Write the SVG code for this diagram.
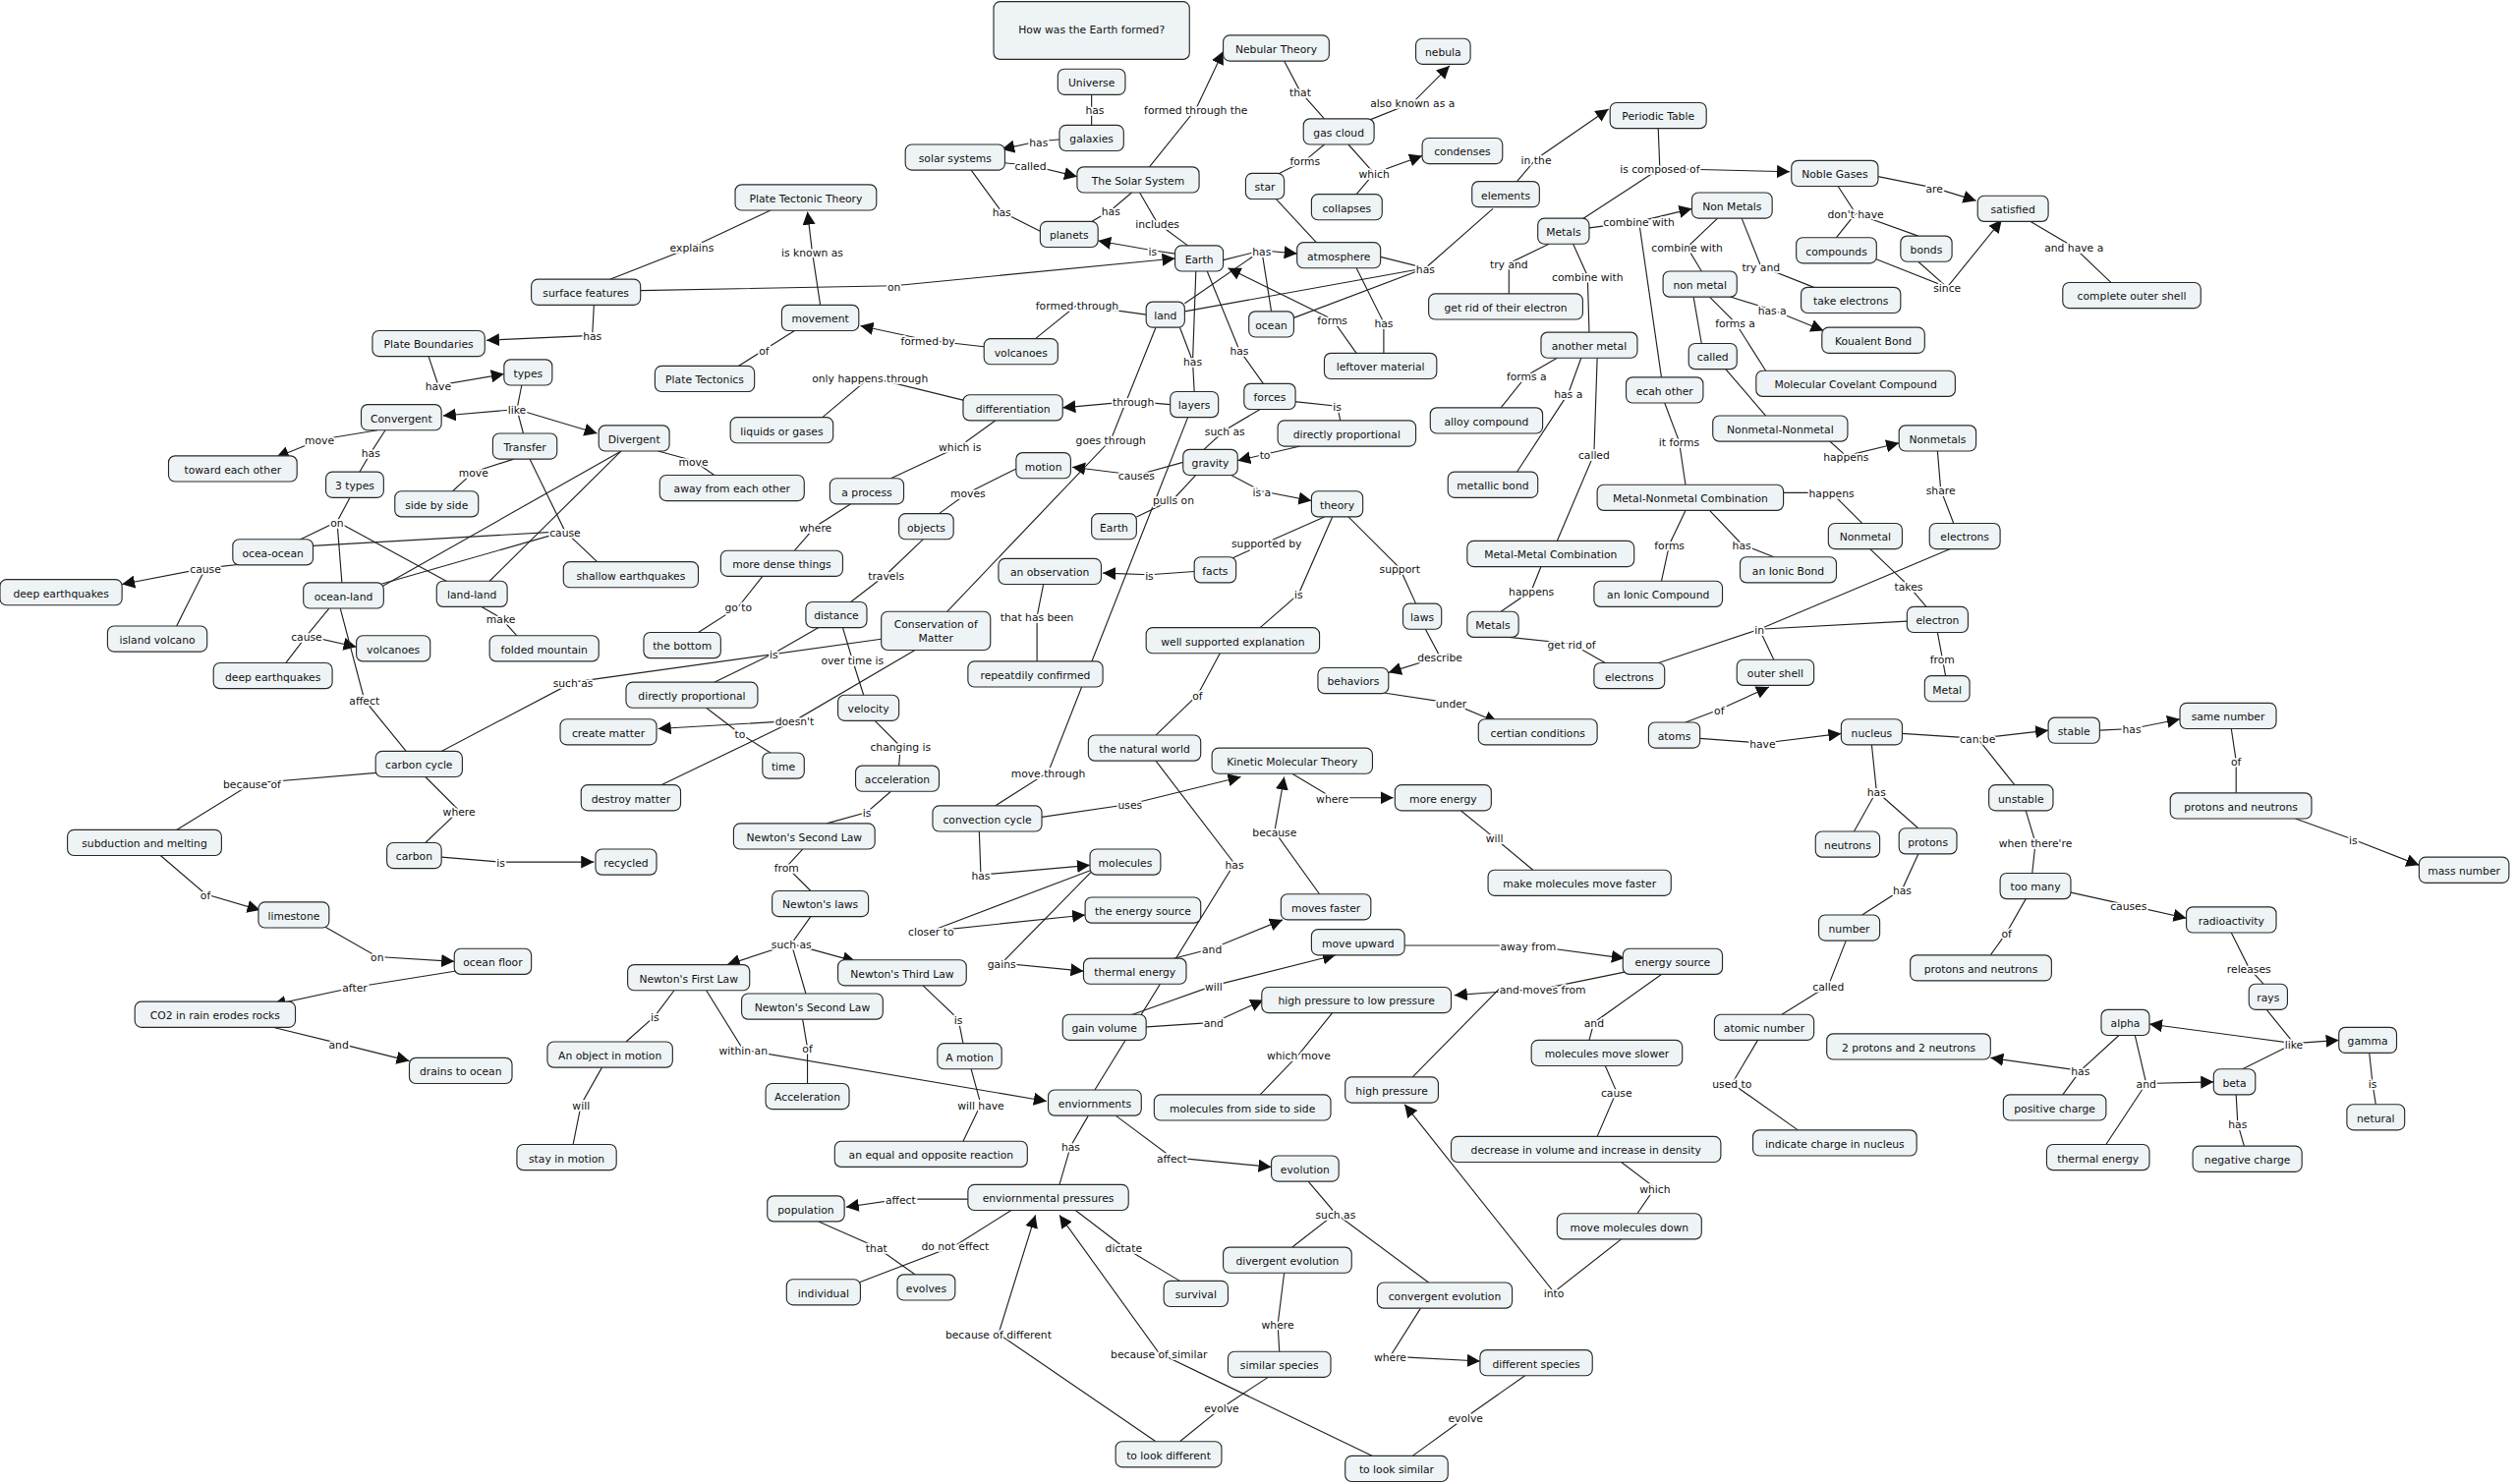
<svg xmlns="http://www.w3.org/2000/svg" width="2561" height="1510" viewBox="0 0 2561 1510">
<style>
.n rect{fill:#eef3f5;stroke:#2a2a2a;stroke-width:0.7;height:16px;rx:4px;ry:4px}
.n text,.l{font-family:"DejaVu Sans",Verdana,sans-serif;font-size:6.6px;fill:#111;text-anchor:middle}
.l{stroke:#fff;stroke-width:2.2px;paint-order:stroke;stroke-linejoin:round}
#edges path{fill:none;stroke:#222;stroke-width:0.7}
#edges path.a{marker-end:url(#ar)}
</style>
<defs><marker id="ar" viewBox="0 0 10 10" refX="10" refY="5" markerWidth="8" markerHeight="8" markerUnits="userSpaceOnUse" orient="auto"><path d="M0,0 L10,5 L0,10 z" fill="#111"/></marker></defs>
<rect width="2561" height="1510" fill="#fff"/>
<g transform="scale(1.6333)">
<g id="edges">
<path d="M680,59 L680,78"/>
<path class="a" d="M670,86 L647,88 L624,93"/>
<path class="a" d="M620,101 L642,103 L671,110"/>
<path d="M605,106 L624,132 L648,144"/>
<path d="M705,120 L692,131 L680,138"/>
<path d="M710,120 L721,139 L740,153"/>
<path class="a" d="M732,158 L718,156 L684,150"/>
<path class="a" d="M716,104 L745,68 L762,32"/>
<path d="M800,38 L810,57 L825,74"/>
<path class="a" d="M850,76 L880,64 L903,41"/>
<path class="a" d="M840,90 L856,108 L886,97"/>
<path d="M856,108 L845,121"/>
<path d="M825,90 L813,100 L795,109"/>
<path d="M795,124 L820,151"/>
<path class="a" d="M762,162 L786,156 L808,158"/>
<path d="M786,156 L792,194"/>
<path d="M786,156 L738,189"/>
<path d="M860,160 L888,167 L930,130"/>
<path d="M738,194 L888,167"/>
<path d="M806,198 L888,167"/>
<path d="M845,167 L862,201 L862,220"/>
<path class="a" d="M845,220 L830,199 L765,167"/>
<path d="M745,169 L743,225 L744,244"/>
<path d="M735,204 L743,225"/>
<path d="M752,169 L772,218 L787,239"/>
<path d="M714,196 L671,190 L645,211"/>
<path class="a" d="M613,216 L578,212 L536,203"/>
<path class="a" d="M511,190 L506,157 L503,132"/>
<path d="M495,206 L476,218 L460,228"/>
<path d="M380,174 L431,154 L480,131"/>
<path class="a" d="M399,181 L557,178 L732,161"/>
<path class="a" d="M370,190 L369,209 L303,212"/>
<path class="a" d="M267,222 L273,240 L314,233"/>
<path class="a" d="M325,240 L322,255 L276,259"/>
<path d="M322,255 L326,270"/>
<path class="a" d="M322,255 L372,270"/>
<path class="a" d="M235,268 L199,274 L172,285"/>
<path d="M240,268 L231,282 L224,294"/>
<path d="M410,281 L432,287 L445,296"/>
<path d="M320,286 L295,294 L282,306"/>
<path d="M218,310 L210,325 L185,337"/>
<path d="M210,325 L213,363"/>
<path d="M210,325 L280,363"/>
<path d="M330,286 L352,331 L372,350"/>
<path d="M195,340 L352,331"/>
<path d="M230,366 L352,331"/>
<path d="M387,281 L305,362"/>
<path d="M387,281 L235,367"/>
<path class="a" d="M155,351 L128,354 L76,364"/>
<path d="M128,354 L110,390"/>
<path class="a" d="M205,379 L191,396 L222,403"/>
<path d="M191,396 L178,413"/>
<path d="M300,378 L312,385 L322,396"/>
<path d="M212,379 L227,436 L253,468"/>
<path d="M240,481 L157,488 L110,517"/>
<path d="M265,484 L286,505 L265,525"/>
<path class="a" d="M275,534 L312,537 L370,537"/>
<path class="a" d="M100,533 L128,557 L162,567"/>
<path class="a" d="M200,576 L235,596 L283,599"/>
<path class="a" d="M290,604 L221,615 L170,626"/>
<path class="a" d="M170,640 L211,650 L255,661"/>
<path d="M550,398 L357,425 L275,468"/>
<path class="a" d="M570,405 L495,449 L410,454"/>
<path d="M495,449 L410,490"/>
<path d="M603,250 L542,235 L510,262"/>
<path class="a" d="M729,252 L706,250 L662,254"/>
<path d="M620,262 L598,278 L555,298"/>
<path d="M530,314 L508,328 L495,343"/>
<path d="M475,359 L460,378 L435,394"/>
<path d="M585,320 L603,307 L633,292"/>
<path class="a" d="M737,288 L708,296 L668,291"/>
<path d="M575,336 L552,358 L530,375"/>
<path d="M525,391 L531,411 L538,433"/>
<path d="M510,391 L482,407 L445,425"/>
<path d="M440,441 L461,457 L480,469"/>
<path d="M545,449 L561,465 L560,477"/>
<path d="M555,493 L540,506 L515,513"/>
<path d="M500,529 L490,540 L505,555"/>
<path class="a" d="M505,571 L493,588 L453,601"/>
<path class="a" d="M493,588 L533,599"/>
<path d="M493,588 L502,619"/>
<path d="M420,617 L408,633 L390,649"/>
<path d="M375,665 L362,688 L357,713"/>
<path class="a" d="M440,617 L463,654 L652,686"/>
<path d="M500,635 L503,653 L503,675"/>
<path d="M575,614 L597,635 L600,650"/>
<path d="M605,666 L611,688 L600,711"/>
<path d="M785,255 L763,268 L750,280"/>
<path d="M805,250 L833,253 L835,262"/>
<path class="a" d="M810,278 L788,283 L771,287"/>
<path d="M745,296 L731,311 L708,322"/>
<path class="a" d="M765,295 L786,306 L817,312"/>
<path d="M765,349 L789,338 L825,322"/>
<path class="a" d="M744,356 L716,358 L687,357"/>
<path d="M650,364 L646,384 L646,412"/>
<path d="M840,322 L872,354 L882,376"/>
<path d="M830,322 L809,370 L785,391"/>
<path class="a" d="M888,392 L897,409 L865,419"/>
<path class="a" d="M858,431 L904,438 L933,450"/>
<path d="M760,407 L746,433 L720,458"/>
<path d="M720,204 L692,274 L590,381"/>
<path d="M740,260 L653,481 L620,502"/>
<path class="a" d="M649,509 L704,501 L773,484"/>
<path class="a" d="M610,518 L611,545 L679,539"/>
<path class="a" d="M680,542 L580,580 L676,570"/>
<path class="a" d="M680,543 L624,600 L675,605"/>
<path class="a" d="M805,482 L830,497 L868,497"/>
<path d="M910,505 L931,522 L955,542"/>
<path class="a" d="M822,557 L794,518 L800,484"/>
<path class="a" d="M720,600 L755,591 L799,573"/>
<path d="M720,474 L769,538 L682,679"/>
<path class="a" d="M700,634 L756,614 L832,595"/>
<path class="a" d="M710,640 L756,637 L787,623"/>
<path class="a" d="M875,589 L952,589 L1012,597"/>
<path class="a" d="M1015,605 L961,616 L906,620"/>
<path d="M935,615 L880,671"/>
<path d="M830,631 L809,657 L785,682"/>
<path d="M1035,607 L993,637 L990,648"/>
<path d="M1000,664 L1007,680 L995,708"/>
<path d="M1010,724 L1031,740 L1020,756"/>
<path class="a" d="M1010,772 L968,805 L875,688"/>
<path d="M678,695 L667,714 L660,738"/>
<path class="a" d="M695,695 L730,721 L792,727"/>
<path class="a" d="M603,747 L561,747 L527,752"/>
<path d="M630,754 L595,776 L535,799"/>
<path d="M510,761 L546,777 L570,794"/>
<path d="M670,754 L700,777 L735,798"/>
<path d="M815,736 L832,756 L805,777"/>
<path d="M832,756 L890,799"/>
<path d="M800,793 L796,825 L797,842"/>
<path class="a" d="M885,815 L866,845 L922,848"/>
<path d="M790,858 L761,877 L735,898"/>
<path d="M950,857 L913,883 L880,907"/>
<path class="a" d="M720,898 L622,831 L645,757"/>
<path class="a" d="M855,907 L722,843 L660,757"/>
<path class="a" d="M945,113 L957,99 L1002,68"/>
<path class="a" d="M1033,80 L1034,105 L1115,107"/>
<path d="M1034,105 L985,137"/>
<path class="a" d="M990,142 L1021,138 L1054,130"/>
<path d="M1021,138 L1035,235"/>
<path class="a" d="M1170,110 L1205,117 L1231,125"/>
<path d="M1265,138 L1292,154 L1315,176"/>
<path d="M1145,116 L1156,133 L1144,148"/>
<path d="M1156,133 L1195,147"/>
<path class="a" d="M1165,160 L1213,179 L1247,137"/>
<path d="M1195,163 L1213,179"/>
<path d="M1070,136 L1051,154 L1060,169"/>
<path d="M1085,136 L1097,166 L1130,179"/>
<path class="a" d="M1075,184 L1104,193 L1136,206"/>
<path d="M1065,185 L1081,201 L1100,231"/>
<path d="M1055,185 L1060,214"/>
<path d="M1075,230 L1100,259"/>
<path d="M965,152 L940,164 L940,183"/>
<path d="M980,152 L989,172 L990,207"/>
<path d="M970,223 L951,234 L935,254"/>
<path d="M985,223 L977,245 L945,294"/>
<path d="M995,223 L993,283 L970,337"/>
<path d="M1037,251 L1046,275 L1050,302"/>
<path class="a" d="M1130,266 L1150,284 L1183,276"/>
<path d="M1050,318 L1040,339 L1035,362"/>
<path d="M1065,318 L1085,339 L1105,347"/>
<path d="M1100,307 L1141,307 L1160,326"/>
<path d="M1207,281 L1209,305 L1217,326"/>
<path d="M1165,342 L1189,365 L1200,378"/>
<path d="M960,353 L954,368 L935,381"/>
<path d="M940,397 L979,401 L1000,413"/>
<path d="M1207,394 L1210,410 L1212,421"/>
<path d="M1215,342 L1096,392 L1105,411"/>
<path d="M1188,387 L1096,392"/>
<path d="M1030,414 L1096,392"/>
<path class="a" d="M1050,450 L1071,442 L1102,428"/>
<path class="a" d="M1059,460 L1098,463 L1147,457"/>
<path class="a" d="M1185,457 L1232,460 L1276,455"/>
<path d="M1232,460 L1255,489"/>
<path class="a" d="M1308,455 L1328,454 L1358,448"/>
<path d="M1390,454 L1393,474 L1393,494"/>
<path class="a" d="M1430,510 L1466,523 L1507,539"/>
<path d="M1166,464 L1169,493 L1155,518"/>
<path d="M1169,493 L1195,516"/>
<path d="M1195,532 L1185,554 L1160,570"/>
<path d="M1150,586 L1139,614 L1110,632"/>
<path d="M1095,648 L1079,675 L1120,704"/>
<path d="M1262,505 L1268,525 L1266,544"/>
<path d="M1262,560 L1250,581 L1240,595"/>
<path class="a" d="M1290,556 L1326,564 L1362,572"/>
<path d="M1390,581 L1401,603 L1410,613"/>
<path d="M1412,629 L1429,650"/>
<path class="a" d="M1429,650 L1339,638"/>
<path class="a" d="M1429,650 L1457,648"/>
<path d="M1429,650 L1397,666"/>
<path class="a" d="M1320,645 L1296,667 L1240,659"/>
<path d="M1296,667 L1285,682"/>
<path class="a" d="M1330,645 L1337,675 L1379,674"/>
<path d="M1337,675 L1312,713"/>
<path d="M1393,682 L1394,700 L1398,714"/>
<path d="M1476,656 L1478,675 L1480,688"/>
</g>
<g id="linklabels">
<text class="l" x="682" y="71">has</text><text class="l" x="647" y="91">has</text><text class="l" x="642" y="106">called</text><text class="l" x="624" y="135">has</text><text class="l" x="692" y="134">has</text><text class="l" x="721" y="142">includes</text><text class="l" x="718" y="159">is</text><text class="l" x="745" y="71">formed through the</text><text class="l" x="810" y="60">that</text><text class="l" x="880" y="67">also known as a</text><text class="l" x="856" y="111">which</text><text class="l" x="813" y="103">forms</text><text class="l" x="786" y="159">has</text><text class="l" x="888" y="170">has</text><text class="l" x="862" y="204">has</text><text class="l" x="830" y="202">forms</text><text class="l" x="743" y="228">has</text><text class="l" x="772" y="221">has</text><text class="l" x="671" y="193">formed through</text><text class="l" x="578" y="215">formed by</text><text class="l" x="506" y="160">is known as</text><text class="l" x="476" y="221">of</text><text class="l" x="431" y="157">explains</text><text class="l" x="557" y="181">on</text><text class="l" x="369" y="212">has</text><text class="l" x="273" y="243">have</text><text class="l" x="322" y="258">like</text><text class="l" x="199" y="277">move</text><text class="l" x="231" y="285">has</text><text class="l" x="432" y="290">move</text><text class="l" x="295" y="297">move</text><text class="l" x="210" y="328">on</text><text class="l" x="352" y="334">cause</text><text class="l" x="128" y="357">cause</text><text class="l" x="191" y="399">cause</text><text class="l" x="312" y="388">make</text><text class="l" x="227" y="439">affect</text><text class="l" x="157" y="491">because of</text><text class="l" x="286" y="508">where</text><text class="l" x="312" y="540">is</text><text class="l" x="128" y="560">of</text><text class="l" x="235" y="599">on</text><text class="l" x="221" y="618">after</text><text class="l" x="211" y="653">and</text><text class="l" x="357" y="428">such as</text><text class="l" x="495" y="452">doesn't</text><text class="l" x="542" y="238">only happens through</text><text class="l" x="706" y="253">through</text><text class="l" x="598" y="281">which is</text><text class="l" x="508" y="331">where</text><text class="l" x="460" y="381">go to</text><text class="l" x="603" y="310">moves</text><text class="l" x="708" y="299">causes</text><text class="l" x="552" y="361">travels</text><text class="l" x="531" y="414">over time is</text><text class="l" x="482" y="410">is</text><text class="l" x="461" y="460">to</text><text class="l" x="561" y="468">changing is</text><text class="l" x="540" y="509">is</text><text class="l" x="490" y="543">from</text><text class="l" x="493" y="591">such as</text><text class="l" x="408" y="636">is</text><text class="l" x="362" y="691">will</text><text class="l" x="463" y="657">within an</text><text class="l" x="503" y="656">of</text><text class="l" x="597" y="638">is</text><text class="l" x="611" y="691">will have</text><text class="l" x="763" y="271">such as</text><text class="l" x="833" y="256">is</text><text class="l" x="788" y="286">to</text><text class="l" x="731" y="314">pulls on</text><text class="l" x="786" y="309">is a</text><text class="l" x="789" y="341">supported by</text><text class="l" x="716" y="361">is</text><text class="l" x="646" y="387">that has been</text><text class="l" x="872" y="357">support</text><text class="l" x="809" y="373">is</text><text class="l" x="897" y="412">describe</text><text class="l" x="904" y="441">under</text><text class="l" x="746" y="436">of</text><text class="l" x="692" y="277">goes through</text><text class="l" x="653" y="484">move through</text><text class="l" x="704" y="504">uses</text><text class="l" x="611" y="548">has</text><text class="l" x="580" y="583">closer to</text><text class="l" x="624" y="603">gains</text><text class="l" x="830" y="500">where</text><text class="l" x="931" y="525">will</text><text class="l" x="794" y="521">because</text><text class="l" x="755" y="594">and</text><text class="l" x="769" y="541">has</text><text class="l" x="756" y="617">will</text><text class="l" x="756" y="640">and</text><text class="l" x="952" y="592">away from</text><text class="l" x="961" y="619">and moves from</text><text class="l" x="809" y="660">which move</text><text class="l" x="993" y="640">and</text><text class="l" x="1007" y="683">cause</text><text class="l" x="1031" y="743">which</text><text class="l" x="968" y="808">into</text><text class="l" x="667" y="717">has</text><text class="l" x="730" y="724">affect</text><text class="l" x="561" y="750">affect</text><text class="l" x="595" y="779">do not effect</text><text class="l" x="546" y="780">that</text><text class="l" x="700" y="780">dictate</text><text class="l" x="832" y="759">such as</text><text class="l" x="796" y="828">where</text><text class="l" x="866" y="848">where</text><text class="l" x="761" y="880">evolve</text><text class="l" x="913" y="886">evolve</text><text class="l" x="622" y="834">because of different</text><text class="l" x="722" y="846">because of similar</text><text class="l" x="957" y="102">in the</text><text class="l" x="1034" y="108">is composed of</text><text class="l" x="1021" y="141">combine with</text><text class="l" x="1205" y="120">are</text><text class="l" x="1292" y="157">and have a</text><text class="l" x="1156" y="136">don't have</text><text class="l" x="1213" y="182">since</text><text class="l" x="1051" y="157">combine with</text><text class="l" x="1097" y="169">try and</text><text class="l" x="1104" y="196">has a</text><text class="l" x="1081" y="204">forms a</text><text class="l" x="940" y="167">try and</text><text class="l" x="989" y="175">combine with</text><text class="l" x="951" y="237">forms a</text><text class="l" x="977" y="248">has a</text><text class="l" x="993" y="286">called</text><text class="l" x="1046" y="278">it forms</text><text class="l" x="1150" y="287">happens</text><text class="l" x="1040" y="342">forms</text><text class="l" x="1085" y="342">has</text><text class="l" x="1141" y="310">happens</text><text class="l" x="1209" y="308">share</text><text class="l" x="1189" y="368">takes</text><text class="l" x="954" y="371">happens</text><text class="l" x="979" y="404">get rid of</text><text class="l" x="1210" y="413">from</text><text class="l" x="1096" y="395">in</text><text class="l" x="1071" y="445">of</text><text class="l" x="1098" y="466">have</text><text class="l" x="1232" y="463">can be</text><text class="l" x="1328" y="457">has</text><text class="l" x="1393" y="477">of</text><text class="l" x="1466" y="526">is</text><text class="l" x="1169" y="496">has</text><text class="l" x="1185" y="557">has</text><text class="l" x="1139" y="617">called</text><text class="l" x="1079" y="678">used to</text><text class="l" x="1268" y="528">when there're</text><text class="l" x="1250" y="584">of</text><text class="l" x="1326" y="567">causes</text><text class="l" x="1401" y="606">releases</text><text class="l" x="1429" y="653">like</text><text class="l" x="1296" y="670">has</text><text class="l" x="1337" y="678">and</text><text class="l" x="1394" y="703">has</text><text class="l" x="1478" y="678">is</text>
</g>
<g id="n1" class="n"><rect x="619" y="1" width="122" style="height:36px"/><text x="680" y="21">How was the Earth formed?</text></g>
<g id="n2" class="n"><rect x="659" y="43" width="42"/><text x="680" y="54">Universe</text></g>
<g id="n3" class="n"><rect x="660" y="78" width="40"/><text x="680" y="89">galaxies</text></g>
<g id="n4" class="n"><rect x="564" y="90" width="62"/><text x="595" y="101">solar systems</text></g>
<g id="n5" class="n"><rect x="671" y="104" width="76"/><text x="709" y="115">The Solar System</text></g>
<g id="n6" class="n"><rect x="648" y="138" width="36"/><text x="666" y="149">planets</text></g>
<g id="n7" class="n"><rect x="732" y="153" width="30"/><text x="747" y="164">Earth</text></g>
<g id="n8" class="n"><rect x="762" y="22" width="66"/><text x="795" y="33">Nebular Theory</text></g>
<g id="n9" class="n"><rect x="882" y="24" width="34"/><text x="899" y="35">nebula</text></g>
<g id="n10" class="n"><rect x="812" y="74" width="44"/><text x="834" y="85">gas cloud</text></g>
<g id="n11" class="n"><rect x="886" y="86" width="50"/><text x="911" y="97">condenses</text></g>
<g id="n12" class="n"><rect x="776" y="108" width="24"/><text x="788" y="119">star</text></g>
<g id="n13" class="n"><rect x="817" y="121" width="44"/><text x="839" y="132">collapses</text></g>
<g id="n14" class="n"><rect x="808" y="151" width="52"/><text x="834" y="162">atmosphere</text></g>
<g id="n15" class="n"><rect x="917" y="113" width="42"/><text x="938" y="124">elements</text></g>
<g id="n16" class="n"><rect x="1003" y="64" width="60"/><text x="1033" y="75">Periodic Table</text></g>
<g id="n17" class="n"><rect x="1116" y="100" width="54"/><text x="1143" y="111">Noble Gases</text></g>
<g id="n18" class="n"><rect x="1232" y="122" width="44"/><text x="1254" y="133">satisfied</text></g>
<g id="n19" class="n"><rect x="1285" y="176" width="86"/><text x="1328" y="187">complete outer shell</text></g>
<g id="n20" class="n"><rect x="958" y="136" width="32"/><text x="974" y="147">Metals</text></g>
<g id="n21" class="n"><rect x="1054" y="120" width="50"/><text x="1079" y="131">Non Metals</text></g>
<g id="n22" class="n"><rect x="1119" y="148" width="50"/><text x="1144" y="159">compounds</text></g>
<g id="n23" class="n"><rect x="1184" y="147" width="32"/><text x="1200" y="158">bonds</text></g>
<g id="n24" class="n"><rect x="1036" y="169" width="46"/><text x="1059" y="180">non metal</text></g>
<g id="n25" class="n"><rect x="1122" y="179" width="62"/><text x="1153" y="190">take electrons</text></g>
<g id="n26" class="n"><rect x="1135" y="204" width="64"/><text x="1167" y="215">Koualent Bond</text></g>
<g id="n27" class="n"><rect x="1094" y="231" width="124"/><text x="1156" y="242">Molecular Covelant Compound</text></g>
<g id="n28" class="n"><rect x="1052" y="214" width="30"/><text x="1067" y="225">called</text></g>
<g id="n29" class="n"><rect x="890" y="183" width="96"/><text x="938" y="194">get rid of their electron</text></g>
<g id="n30" class="n"><rect x="960" y="207" width="60"/><text x="990" y="218">another metal</text></g>
<g id="n31" class="n"><rect x="1013" y="235" width="48"/><text x="1037" y="246">ecah other</text></g>
<g id="n32" class="n"><rect x="891" y="254" width="70"/><text x="926" y="265">alloy compound</text></g>
<g id="n33" class="n"><rect x="902" y="294" width="56"/><text x="930" y="305">metallic bond</text></g>
<g id="n34" class="n"><rect x="1067" y="259" width="84"/><text x="1109" y="270">Nonmetal-Nonmetal</text></g>
<g id="n35" class="n"><rect x="1183" y="265" width="48"/><text x="1207" y="276">Nonmetals</text></g>
<g id="n36" class="n"><rect x="995" y="302" width="116"/><text x="1053" y="313">Metal-Nonmetal Combination</text></g>
<g id="n37" class="n"><rect x="1139" y="326" width="46"/><text x="1162" y="337">Nonmetal</text></g>
<g id="n38" class="n"><rect x="1202" y="326" width="44"/><text x="1224" y="337">electrons</text></g>
<g id="n39" class="n"><rect x="914" y="337" width="104"/><text x="966" y="348">Metal-Metal Combination</text></g>
<g id="n40" class="n"><rect x="1084" y="347" width="60"/><text x="1114" y="358">an Ionic Bond</text></g>
<g id="n41" class="n"><rect x="993" y="362" width="80"/><text x="1033" y="373">an Ionic Compound</text></g>
<g id="n42" class="n"><rect x="914" y="381" width="32"/><text x="930" y="392">Metals</text></g>
<g id="n43" class="n"><rect x="993" y="413" width="44"/><text x="1015" y="424">electrons</text></g>
<g id="n44" class="n"><rect x="1188" y="378" width="38"/><text x="1207" y="389">electron</text></g>
<g id="n45" class="n"><rect x="1199" y="421" width="28"/><text x="1213" y="432">Metal</text></g>
<g id="n46" class="n"><rect x="1082" y="411" width="48"/><text x="1106" y="422">outer shell</text></g>
<g id="n47" class="n"><rect x="1027" y="450" width="32"/><text x="1043" y="461">atoms</text></g>
<g id="n48" class="n"><rect x="1147" y="448" width="38"/><text x="1166" y="459">nucleus</text></g>
<g id="n49" class="n"><rect x="1276" y="447" width="32"/><text x="1292" y="458">stable</text></g>
<g id="n50" class="n"><rect x="1358" y="438" width="60"/><text x="1388" y="449">same number</text></g>
<g id="n51" class="n"><rect x="1352" y="494" width="88"/><text x="1396" y="505">protons and neutrons</text></g>
<g id="n52" class="n"><rect x="1507" y="534" width="56"/><text x="1535" y="545">mass number</text></g>
<g id="n53" class="n"><rect x="1239" y="489" width="40"/><text x="1259" y="500">unstable</text></g>
<g id="n54" class="n"><rect x="1131" y="518" width="40"/><text x="1151" y="529">neutrons</text></g>
<g id="n55" class="n"><rect x="1183" y="516" width="36"/><text x="1201" y="527">protons</text></g>
<g id="n56" class="n"><rect x="1246" y="544" width="44"/><text x="1268" y="555">too many</text></g>
<g id="n57" class="n"><rect x="1362" y="565" width="56"/><text x="1390" y="576">radioactivity</text></g>
<g id="n58" class="n"><rect x="1190" y="595" width="88"/><text x="1234" y="606">protons and neutrons</text></g>
<g id="n59" class="n"><rect x="1133" y="570" width="38"/><text x="1152" y="581">number</text></g>
<g id="n60" class="n"><rect x="1068" y="632" width="62"/><text x="1099" y="643">atomic number</text></g>
<g id="n61" class="n"><rect x="1401" y="613" width="24"/><text x="1413" y="624">rays</text></g>
<g id="n62" class="n"><rect x="1309" y="629" width="30"/><text x="1324" y="640">alpha</text></g>
<g id="n63" class="n"><rect x="1457" y="640" width="36"/><text x="1475" y="651">gamma</text></g>
<g id="n64" class="n"><rect x="1138" y="644" width="102"/><text x="1189" y="655">2 protons and 2 neutrons</text></g>
<g id="n65" class="n"><rect x="1379" y="666" width="26"/><text x="1392" y="677">beta</text></g>
<g id="n66" class="n"><rect x="1248" y="682" width="64"/><text x="1280" y="693">positive charge</text></g>
<g id="n67" class="n"><rect x="1462" y="688" width="36"/><text x="1480" y="699">netural</text></g>
<g id="n68" class="n"><rect x="1275" y="713" width="64"/><text x="1307" y="724">thermal energy</text></g>
<g id="n69" class="n"><rect x="1366" y="714" width="68"/><text x="1400" y="725">negative charge</text></g>
<g id="n70" class="n"><rect x="1092" y="704" width="102"/><text x="1143" y="715">indicate charge in nucleus</text></g>
<g id="n71" class="n"><rect x="458" y="115" width="88"/><text x="502" y="126">Plate Tectonic Theory</text></g>
<g id="n72" class="n"><rect x="331" y="174" width="68"/><text x="365" y="185">surface features</text></g>
<g id="n73" class="n"><rect x="232" y="206" width="70"/><text x="267" y="217">Plate Boundaries</text></g>
<g id="n74" class="n"><rect x="487" y="190" width="48"/><text x="511" y="201">movement</text></g>
<g id="n75" class="n"><rect x="408" y="228" width="62"/><text x="439" y="239">Plate Tectonics</text></g>
<g id="n76" class="n"><rect x="613" y="211" width="46"/><text x="636" y="222">volcanoes</text></g>
<g id="n77" class="n"><rect x="714" y="188" width="24"/><text x="726" y="199">land</text></g>
<g id="n78" class="n"><rect x="778" y="194" width="28"/><text x="792" y="205">ocean</text></g>
<g id="n79" class="n"><rect x="825" y="220" width="70"/><text x="860" y="231">leftover material</text></g>
<g id="n80" class="n"><rect x="729" y="244" width="30"/><text x="744" y="255">layers</text></g>
<g id="n81" class="n"><rect x="775" y="239" width="32"/><text x="791" y="250">forces</text></g>
<g id="n82" class="n"><rect x="796" y="262" width="86"/><text x="839" y="273">directly proportional</text></g>
<g id="n83" class="n"><rect x="600" y="246" width="62"/><text x="631" y="257">differentiation</text></g>
<g id="n84" class="n"><rect x="455" y="260" width="64"/><text x="487" y="271">liquids or gases</text></g>
<g id="n85" class="n"><rect x="314" y="224" width="30"/><text x="329" y="235">types</text></g>
<g id="n86" class="n"><rect x="225" y="252" width="50"/><text x="250" y="263">Convergent</text></g>
<g id="n87" class="n"><rect x="307" y="270" width="40"/><text x="327" y="281">Transfer</text></g>
<g id="n88" class="n"><rect x="373" y="265" width="44"/><text x="395" y="276">Divergent</text></g>
<g id="n89" class="n"><rect x="105" y="284" width="80"/><text x="145" y="295">toward each other</text></g>
<g id="n90" class="n"><rect x="411" y="296" width="90"/><text x="456" y="307">away from each other</text></g>
<g id="n91" class="n"><rect x="203" y="294" width="36"/><text x="221" y="305">3 types</text></g>
<g id="n92" class="n"><rect x="246" y="306" width="52"/><text x="272" y="317">side by side</text></g>
<g id="n93" class="n"><rect x="633" y="282" width="34"/><text x="650" y="293">motion</text></g>
<g id="n94" class="n"><rect x="737" y="280" width="34"/><text x="754" y="291">gravity</text></g>
<g id="n95" class="n"><rect x="817" y="306" width="32"/><text x="833" y="317">theory</text></g>
<g id="n96" class="n"><rect x="517" y="298" width="46"/><text x="540" y="309">a process</text></g>
<g id="n97" class="n"><rect x="560" y="320" width="34"/><text x="577" y="331">objects</text></g>
<g id="n98" class="n"><rect x="680" y="320" width="28"/><text x="694" y="331">Earth</text></g>
<g id="n99" class="n"><rect x="145" y="336" width="50"/><text x="170" y="347">ocea-ocean</text></g>
<g id="n100" class="n"><rect x="449" y="343" width="76"/><text x="487" y="354">more dense things</text></g>
<g id="n101" class="n"><rect x="351" y="350" width="84"/><text x="393" y="361">shallow earthquakes</text></g>
<g id="n102" class="n"><rect x="622" y="348" width="64"/><text x="654" y="359">an observation</text></g>
<g id="n103" class="n"><rect x="744" y="347" width="26"/><text x="757" y="358">facts</text></g>
<g id="n104" class="n"><rect x="0" y="361" width="76"/><text x="38" y="372">deep earthquakes</text></g>
<g id="n105" class="n"><rect x="189" y="363" width="50"/><text x="214" y="374">ocean-land</text></g>
<g id="n106" class="n"><rect x="272" y="362" width="44"/><text x="294" y="373">land-land</text></g>
<g id="n107" class="n"><rect x="502" y="375" width="38"/><text x="521" y="386">distance</text></g>
<g id="n108" class="n"><rect x="549" y="381" width="68" style="height:24px"/><text x="583" y="391">Conservation of</text><text x="583" y="400">Matter</text></g>
<g id="n109" class="n"><rect x="874" y="376" width="24"/><text x="886" y="387">laws</text></g>
<g id="n110" class="n"><rect x="67" y="390" width="62"/><text x="98" y="401">island volcano</text></g>
<g id="n111" class="n"><rect x="222" y="396" width="46"/><text x="245" y="407">volcanoes</text></g>
<g id="n112" class="n"><rect x="305" y="396" width="68"/><text x="339" y="407">folded mountain</text></g>
<g id="n113" class="n"><rect x="401" y="394" width="48"/><text x="425" y="405">the bottom</text></g>
<g id="n114" class="n"><rect x="714" y="391" width="108"/><text x="768" y="402">well supported explanation</text></g>
<g id="n115" class="n"><rect x="603" y="412" width="84"/><text x="645" y="423">repeatdily confirmed</text></g>
<g id="n116" class="n"><rect x="133" y="413" width="74"/><text x="170" y="424">deep earthquakes</text></g>
<g id="n117" class="n"><rect x="821" y="416" width="44"/><text x="843" y="427">behaviors</text></g>
<g id="n118" class="n"><rect x="390" y="425" width="82"/><text x="431" y="436">directly proportional</text></g>
<g id="n119" class="n"><rect x="522" y="433" width="38"/><text x="541" y="444">velocity</text></g>
<g id="n120" class="n"><rect x="349" y="448" width="60"/><text x="379" y="459">create matter</text></g>
<g id="n121" class="n"><rect x="921" y="448" width="74"/><text x="958" y="459">certian conditions</text></g>
<g id="n122" class="n"><rect x="475" y="469" width="26"/><text x="488" y="480">time</text></g>
<g id="n123" class="n"><rect x="678" y="458" width="70"/><text x="713" y="469">the natural world</text></g>
<g id="n124" class="n"><rect x="755" y="466" width="100"/><text x="805" y="477">Kinetic Molecular Theory</text></g>
<g id="n125" class="n"><rect x="234" y="468" width="54"/><text x="261" y="479">carbon cycle</text></g>
<g id="n126" class="n"><rect x="533" y="477" width="52"/><text x="559" y="488">acceleration</text></g>
<g id="n127" class="n"><rect x="362" y="489" width="62"/><text x="393" y="500">destroy matter</text></g>
<g id="n128" class="n"><rect x="869" y="489" width="60"/><text x="899" y="500">more energy</text></g>
<g id="n129" class="n"><rect x="581" y="502" width="68"/><text x="615" y="513">convection cycle</text></g>
<g id="n130" class="n"><rect x="457" y="513" width="88"/><text x="501" y="524">Newton's Second Law</text></g>
<g id="n131" class="n"><rect x="42" y="517" width="96"/><text x="90" y="528">subduction and melting</text></g>
<g id="n132" class="n"><rect x="241" y="525" width="34"/><text x="258" y="536">carbon</text></g>
<g id="n133" class="n"><rect x="371" y="529" width="38"/><text x="390" y="540">recycled</text></g>
<g id="n134" class="n"><rect x="679" y="529" width="44"/><text x="701" y="540">molecules</text></g>
<g id="n135" class="n"><rect x="927" y="542" width="114"/><text x="984" y="553">make molecules move faster</text></g>
<g id="n136" class="n"><rect x="481" y="555" width="60"/><text x="511" y="566">Newton's laws</text></g>
<g id="n137" class="n"><rect x="676" y="559" width="72"/><text x="712" y="570">the energy source</text></g>
<g id="n138" class="n"><rect x="798" y="557" width="56"/><text x="826" y="568">moves faster</text></g>
<g id="n139" class="n"><rect x="161" y="562" width="44"/><text x="183" y="573">limestone</text></g>
<g id="n140" class="n"><rect x="817" y="579" width="58"/><text x="846" y="590">move upward</text></g>
<g id="n141" class="n"><rect x="283" y="591" width="48"/><text x="307" y="602">ocean floor</text></g>
<g id="n142" class="n"><rect x="1011" y="591" width="62"/><text x="1042" y="602">energy source</text></g>
<g id="n143" class="n"><rect x="391" y="601" width="76"/><text x="429" y="612">Newton's First Law</text></g>
<g id="n144" class="n"><rect x="522" y="598" width="80"/><text x="562" y="609">Newton's Third Law</text></g>
<g id="n145" class="n"><rect x="675" y="597" width="64"/><text x="707" y="608">thermal energy</text></g>
<g id="n146" class="n"><rect x="786" y="615" width="118"/><text x="845" y="626">high pressure to low pressure</text></g>
<g id="n147" class="n"><rect x="462" y="619" width="88"/><text x="506" y="630">Newton's Second Law</text></g>
<g id="n148" class="n"><rect x="84" y="624" width="100"/><text x="134" y="635">CO2 in rain erodes rocks</text></g>
<g id="n149" class="n"><rect x="662" y="632" width="52"/><text x="688" y="643">gain volume</text></g>
<g id="n150" class="n"><rect x="954" y="648" width="94"/><text x="1001" y="659">molecules move slower</text></g>
<g id="n151" class="n"><rect x="341" y="649" width="78"/><text x="380" y="660">An object in motion</text></g>
<g id="n152" class="n"><rect x="584" y="650" width="40"/><text x="604" y="661">A motion</text></g>
<g id="n153" class="n"><rect x="255" y="659" width="64"/><text x="287" y="670">drains to ocean</text></g>
<g id="n154" class="n"><rect x="838" y="671" width="58"/><text x="867" y="682">high pressure</text></g>
<g id="n155" class="n"><rect x="477" y="675" width="52"/><text x="503" y="686">Acceleration</text></g>
<g id="n156" class="n"><rect x="653" y="679" width="58"/><text x="682" y="690">enviornments</text></g>
<g id="n157" class="n"><rect x="719" y="682" width="110"/><text x="774" y="693">molecules from side to side</text></g>
<g id="n158" class="n"><rect x="520" y="711" width="120"/><text x="580" y="722">an equal and opposite reaction</text></g>
<g id="n159" class="n"><rect x="322" y="713" width="62"/><text x="353" y="724">stay in motion</text></g>
<g id="n160" class="n"><rect x="904" y="708" width="168"/><text x="988" y="719">decrease in volume and increase in density</text></g>
<g id="n161" class="n"><rect x="792" y="720" width="42"/><text x="813" y="731">evolution</text></g>
<g id="n162" class="n"><rect x="603" y="738" width="100"/><text x="653" y="749">enviornmental pressures</text></g>
<g id="n163" class="n"><rect x="478" y="745" width="48"/><text x="502" y="756">population</text></g>
<g id="n164" class="n"><rect x="970" y="756" width="90"/><text x="1015" y="767">move molecules down</text></g>
<g id="n165" class="n"><rect x="762" y="777" width="80"/><text x="802" y="788">divergent evolution</text></g>
<g id="n166" class="n"><rect x="490" y="797" width="46"/><text x="513" y="808">individual</text></g>
<g id="n167" class="n"><rect x="559" y="794" width="36"/><text x="577" y="805">evolves</text></g>
<g id="n168" class="n"><rect x="725" y="798" width="40"/><text x="745" y="809">survival</text></g>
<g id="n169" class="n"><rect x="858" y="799" width="84"/><text x="900" y="810">convergent evolution</text></g>
<g id="n170" class="n"><rect x="765" y="842" width="64"/><text x="797" y="853">similar species</text></g>
<g id="n171" class="n"><rect x="922" y="841" width="70"/><text x="957" y="852">different species</text></g>
<g id="n172" class="n"><rect x="695" y="898" width="66"/><text x="728" y="909">to look different</text></g>
<g id="n173" class="n"><rect x="838" y="907" width="64"/><text x="870" y="918">to look similar</text></g>
</g>
</svg>
